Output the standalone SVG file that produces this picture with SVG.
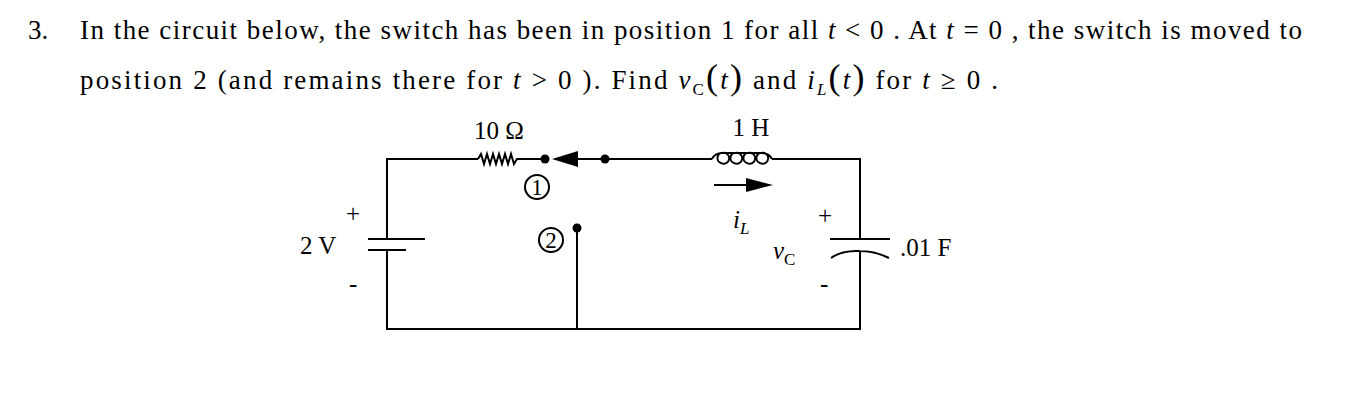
<svg xmlns="http://www.w3.org/2000/svg" width="1356" height="406" viewBox="0 0 1356 406">
<style>
text{font-family:"Liberation Serif","Times New Roman",serif;fill:#000}
.t{font-size:27px}
.l{font-size:25px}
.w{stroke:#000;stroke-width:2;fill:none}
.i{font-style:italic}
</style>
<rect width="1356" height="406" fill="#fff"/>
<g id="problem">
<text class="t" x="28" y="39">3.</text>
<text class="t" x="80" y="39" textLength="1222" lengthAdjust="spacing">In the circuit below, the switch has been in position 1 for all <tspan class="i">t</tspan> &lt; 0 .  At <tspan class="i">t</tspan> = 0 , the switch is moved to</text>
<text class="t" x="80" y="89" textLength="918" lengthAdjust="spacing">position 2 (and remains there for  <tspan class="i">t</tspan> &gt; 0 ). Find <tspan class="i">v</tspan><tspan font-size="17" dy="6">C</tspan><tspan dy="-6" font-size="36">(</tspan><tspan class="i">t</tspan><tspan font-size="36">)</tspan> and <tspan class="i">i</tspan><tspan font-size="17" dy="6" class="i">L</tspan><tspan dy="-6" font-size="36">(</tspan><tspan class="i">t</tspan><tspan font-size="36">)</tspan> for <tspan class="i">t</tspan> ≥ 0 .</text>
</g>
<g id="connectors" class="w">
<polyline points="387,239 387,159 478,159"/>
<line x1="520" y1="159" x2="545" y2="159"/>
<line x1="575" y1="159" x2="712" y2="159"/>
<polyline points="772,159 860,159 860,239"/>
<polyline points="860,252 860,329 387,329 387,250"/>
<line x1="577" y1="228" x2="577" y2="329"/>
</g>
<g id="resistor"><polyline class="w" stroke-width="1.5" points="478,159 481,154 484,164 487,154 490,164 493,154 496,164 499,154 502,164 505,154 508,164 511,154 514,164 517,159 520,159"/>
<text class="l" x="499" y="139" text-anchor="middle">10 Ω</text></g>
<g id="switch">
<circle cx="545" cy="159" r="4.5"/>
<polygon points="552,159 578,151 578,167"/>
<circle cx="605" cy="159" r="4.5"/>
<circle cx="577" cy="228" r="4.5"/>
<circle cx="537" cy="187" r="12" class="w" stroke-width="1.2"/>
<text x="537" y="195" font-size="23" text-anchor="middle">1</text>
<circle cx="551" cy="240" r="12" class="w" stroke-width="1.2"/>
<text x="551" y="248" font-size="23" text-anchor="middle">2</text>
</g>
<g id="inductor"><path class="w" stroke-width="1.5" d="M712,159 Q715,153 722,153 a5.5,5.5 0 1 1 -1,10 a4,5 0 0 1 1,-10 h13 a5.5,5.5 0 1 1 -1,10 a4,5 0 0 1 1,-10 h13 a5.5,5.5 0 1 1 -1,10 a4,5 0 0 1 1,-10 h13 a5.5,5.5 0 1 1 -1,10 a4,5 0 0 1 1,-10 q8,0 11,6"/>
<text class="l" x="751" y="136" text-anchor="middle">1 H</text>
<line class="w" x1="714" y1="185" x2="750" y2="185"/>
<polygon points="773,185 746,178 746,192"/>
<text class="l i" x="733" y="228">i<tspan font-size="17" dy="6">L</tspan></text>
</g>
<g id="battery">
<line class="w" x1="368" y1="239" x2="425" y2="239"/>
<line class="w" x1="368" y1="250" x2="406" y2="250"/>
<text class="l" x="346" y="222">+</text>
<text class="l" x="349" y="292">-</text>
<text class="l" x="300" y="254">2 V</text>
</g>
<g id="capacitor">
<line class="w" x1="830" y1="239" x2="890" y2="239"/>
<path class="w" d="M831,258 Q842,250 860,251 Q875,251 889,258"/>
<text class="l" x="818" y="224">+</text>
<text class="l" x="820" y="292">-</text>
<text class="l i" x="773" y="259">v<tspan font-size="17" dy="6" font-style="normal">C</tspan></text>
<text class="l" x="900" y="256">.01 F</text>
</g>
</svg>
